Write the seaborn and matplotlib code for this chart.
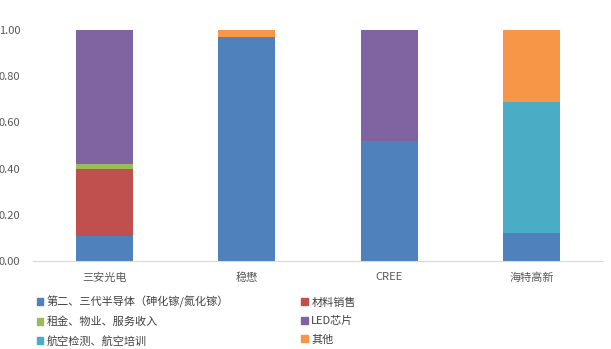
import pandas as pd
import seaborn as sns
import matplotlib.pyplot as plt
import numpy as np

# 公司与各业务占比
companies = ['三安光电', '稳懋', 'CREE', '海特高新']
series_names = ['第二、三代半导体（砷化镓/氮化镓）', '材料销售', '租金、物业、服务收入',
                'LED芯片', '航空检测、航空培训', '其他']
semi = [0.11, 0.97, 0.52, 0.12]
material = [0.29, 0.0, 0.0, 0.0]
rent = [0.02, 0.0, 0.0, 0.0]
led = [0.58, 0.0, 0.48, 0.0]
aviation = [0.0, 0.0, 0.0, 0.57]
other = [0.0, 0.03, 0.0, 0.31]
colors = ['#4F81BD', '#C0504D', '#9BBB59', '#8064A2', '#4BACC6', '#F79646']

sns.set_style('white')
plt.rcParams['font.family'] = ['Noto Sans CJK SC', 'DejaVu Sans']

fig = plt.figure(figsize=(6.11, 3.49), dpi=100)
ax = fig.add_axes([0.054, 0.252, 0.933, 0.662])

bottom = np.zeros(len(companies))
handles = []
for name, vals, c in zip(series_names, [semi, material, rent, led, aviation, other], colors):
    df = pd.DataFrame({'company': companies, 'value': vals})
    sns.barplot(df, x='company', y='value', color=c, width=0.4, bottom=bottom,
                ax=ax, saturation=1, linewidth=0)
    handles.append(plt.Rectangle((0, 0), 1, 1, color=c))
    bottom = bottom + np.array(vals)

ax.set_ylim(0, 1.0)
ax.set_xlim(-0.5, 3.5)
ax.set_yticks(np.arange(0, 1.01, 0.2))
ax.set_yticklabels([f'{v:.2f}' for v in np.arange(0, 1.01, 0.2)])
ax.set_xlabel('')
ax.set_ylabel('')
for s in ['top', 'right', 'left']:
    ax.spines[s].set_visible(False)
ax.spines['bottom'].set_color('#D9D9D9')
ax.tick_params(axis='both', length=0, labelsize=8, colors='#595959')
ax.tick_params(axis='y', pad=9)
ax.tick_params(axis='x', pad=8)

# 两列图例，按行排列
order = [0, 2, 4, 1, 3, 5]
fig.legend([handles[i] for i in order], [series_names[i] for i in order],
           ncol=2, loc='upper left', bbox_to_anchor=(0.06, 0.152), frameon=False,
           fontsize=8, handlelength=0.6, handleheight=0.6, handletextpad=0.3,
           columnspacing=6.5, labelspacing=0.75, labelcolor='#404040',
           borderaxespad=0, borderpad=0)

fig.savefig('out.png', dpi=100)
